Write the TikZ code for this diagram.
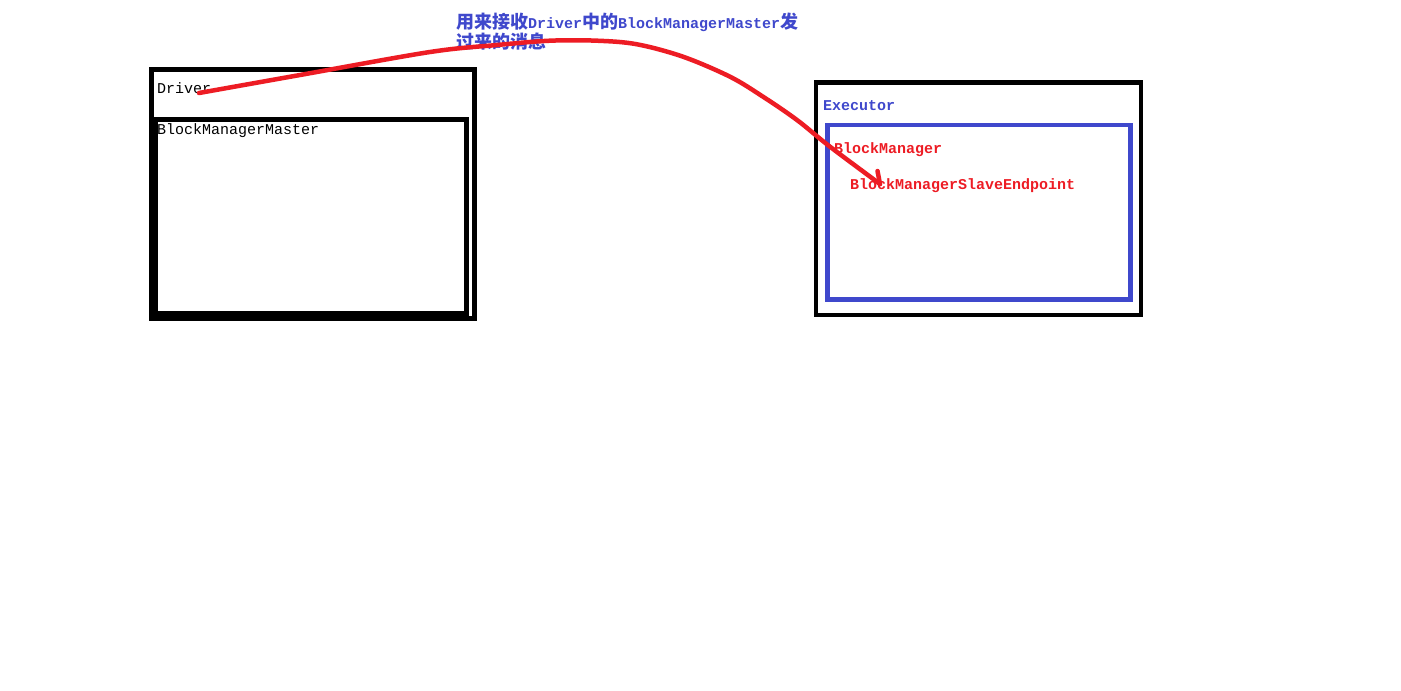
\documentclass[tikz,border=0pt]{standalone}
\usepackage{fontspec}
\setmainfont{Liberation Mono}
\newfontfamily\cjk{Noto Sans CJK SC}
\definecolor{pred}{HTML}{ED1C24}
\definecolor{pblue}{HTML}{3F48CC}
\begin{document}
\begin{tikzpicture}[x=1pt,y=-1pt,
  box/.style={draw, line width=#1, anchor=north west, inner sep=0pt, outer sep=0pt},
  lbl/.style={anchor=base west, inner sep=0pt, font=\fontsize{15}{18}\selectfont},
  zh/.style={anchor=base west, inner sep=0pt, font=\fontsize{15}{18}\selectfont\bfseries, text=pblue},
  link/.style={draw=pred, line width=4.5pt, line cap=round, line join=round}]
\useasboundingbox[fill=white] (0,0) rectangle (1401,691);
% Driver
\node[box=5pt, minimum width=322.5pt, minimum height=249pt] (driver) at (151.5,69.5) {};
\node[box=5pt, minimum width=311pt, minimum height=194pt] (bmm) at (155.5,119.5) {};
\node[lbl] (drvlbl) at (157,93.3) {Driver};
\node[lbl] (bmmlbl) at (157,134) {BlockManagerMaster};
% Executor
\node[box=4.5pt, minimum width=325pt, minimum height=232.5pt] (exec) at (816,82.5) {};
\node[box=4.5pt, draw=pblue, minimum width=302.8pt, minimum height=174.7pt] (bm) at (827.7,124.8) {};
\node[lbl, font=\fontsize{15}{18}\selectfont\bfseries, text=pblue] (execlbl) at (823,110) {Executor};
\node[lbl, font=\fontsize{15}{18}\selectfont\bfseries, text=pred] (bmlbl) at (834,153) {BlockManager};
% annotation
\node[zh] (note1) at (456,28) {{\cjk\fontsize{18}{20}\selectfont 用来接收}Driver{\cjk\fontsize{18}{20}\selectfont 中的}BlockManagerMaster{\cjk\fontsize{18}{20}\selectfont 发}};
\node[zh] (note2) at (456,48) {{\cjk\fontsize{18}{20}\selectfont 过来的消息}};
% arrow
\coordinate (src) at (199,93);
\coordinate (tip) at (880,184);
\coordinate (barb) at (877.5,171);
\draw[link] plot[smooth, tension=0.55] coordinates {(199,93) (300,75) (430,52) (497,45) (550,40.7) (597,40.7) (637,44.3) (683,56.7) (730,76.7) (763,96.7) (797,120) (830,146.7) (880,184)};
\draw[link] (barb) -- (tip);
\node[lbl, font=\fontsize{15}{18}\selectfont\bfseries, text=pred] (bmslbl) at (850,189) {BlockManagerSlaveEndpoint};
\end{tikzpicture}
\end{document}
